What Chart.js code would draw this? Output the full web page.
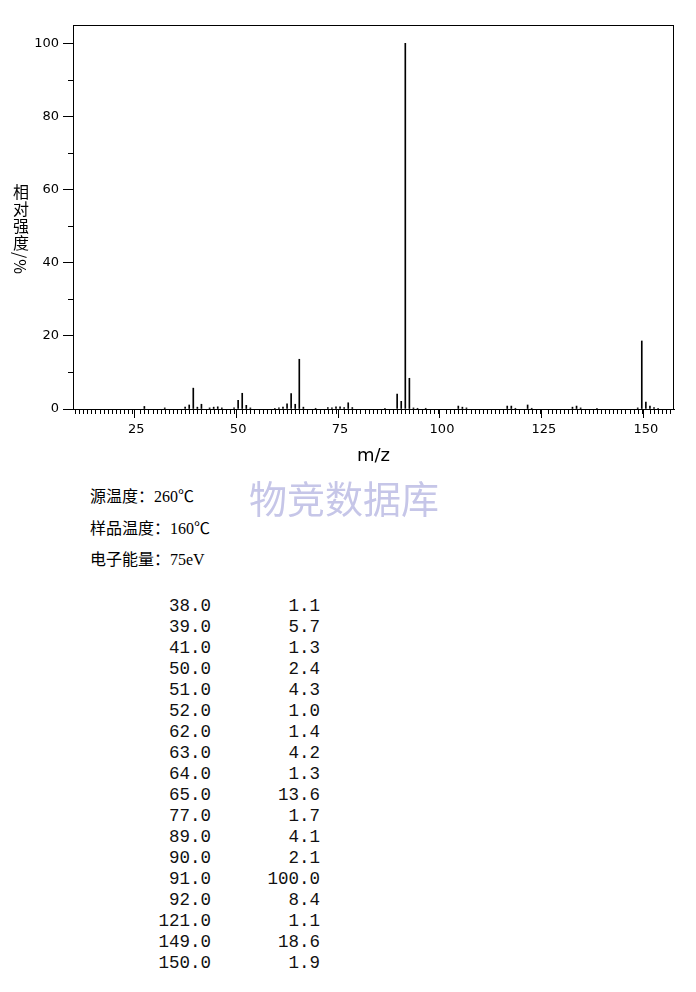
<!DOCTYPE html>
<html>
<head>
<meta charset="utf-8">
<script src="https://cdn.jsdelivr.net/npm/chart.js@4.4.0/dist/chart.umd.min.js"></script>
<style>
  body { margin: 0; background: #fff; width: 696px; height: 992px; position: relative; overflow: hidden; }
  #chart-box { position: absolute; left: 0; top: 0; width: 696px; height: 475px; }
  #ytitle { position: absolute; left: 11px; top: 184px; writing-mode: vertical-rl; text-orientation: mixed;
    font: 16px "Noto Sans CJK SC"; color: #000; line-height: 19px; letter-spacing: 1px; }
  .info { position: absolute; left: 90px; font: 16px "Liberation Serif", "Noto Sans CJK SC"; color: #000; line-height: 20px; }
  #mark { position: absolute; left: 249px; top: 472px; font: 38px "Noto Sans CJK SC"; color: #c6c6e8; line-height: 50px; }
  .cell { position: absolute; font: 17.5px "Liberation Mono"; color: #111; line-height: 21px; text-align: right; }
</style>
</head>
<body>
<div id="chart-box"><canvas id="main-chart"></canvas></div>
<div id="ytitle">相对强度/%</div>
<div class="info" style="top:487px">源温度：260℃</div>
<div class="info" style="top:519px">样品温度：160℃</div>
<div class="info" style="top:550px">电子能量：75eV</div>
<div id="mark">物竞数据库</div>
<div id="table"></div>
<script>
// m/z of each peak and its relative intensity (%)
const mz = [27, 32, 37, 38, 39, 40, 41, 43, 44, 45, 46, 49, 50, 51, 52, 53,
  59, 60, 61, 62, 63, 64, 65, 66, 69, 72, 73, 74, 75, 76, 77, 78, 86,
  89, 90, 91, 92, 93, 94, 96, 104, 105, 106, 116, 117, 118, 121, 122,
  132, 133, 134, 138, 148, 149, 150, 151, 152, 153];
const intensity = [0.7, 0.3, 0.5, 1.1, 5.7, 0.5, 1.3, 0.3, 0.5, 0.6, 0.3, 0.3, 2.4, 4.3, 1.0, 0.3,
  0.2, 0.3, 0.5, 1.4, 4.2, 1.3, 13.6, 0.5, 0.2, 0.4, 0.3, 0.6, 0.6, 0.4, 1.7, 0.4, 0.2,
  4.1, 2.1, 100.0, 8.4, 0.3, 0.2, 0.2, 0.8, 0.5, 0.3, 0.8, 0.8, 0.2, 1.1, 0.2,
  0.5, 0.8, 0.3, 0.2, 0.3, 18.6, 1.9, 0.8, 0.4, 0.2];
const xTickLabels = [25, 50, 75, 100, 125, 150];
const yTickLabels = [0, 20, 40, 60, 80, 100];

// peak table (only peaks >= 1 %)
const tableEl = document.getElementById("table");
let row = 0;
mz.forEach((m, i) => {
  if (intensity[i] < 1) return;
  const top = 596 + row * 21;
  tableEl.insertAdjacentHTML("beforeend",
    `<div class="cell" style="left:100px;width:111px;top:${top}px">${m.toFixed(1)}</div>` +
    `<div class="cell" style="left:220px;width:100px;top:${top}px">${intensity[i].toFixed(1)}</div>`);
  row++;
});

const isMajor = (list, ctx) => ctx.tick && list.includes(ctx.tick.value);

// short ticks for the unlabelled steps, plus the frame
const minorTicks = {
  id: "minorTicks",
  afterDraw(chart) {
    const { ctx, chartArea } = chart;
    const x = chart.scales.x, y = chart.scales.y;
    ctx.save();
    ctx.strokeStyle = "#000";
    ctx.lineWidth = 1;
    ctx.beginPath();
    x.ticks.forEach(t => {
      if (xTickLabels.includes(t.value)) return;
      const px = Math.round(x.getPixelForValue(t.value)) + 0.5;
      ctx.moveTo(px, chartArea.bottom);
      ctx.lineTo(px, chartArea.bottom + 5);
    });
    y.ticks.forEach(t => {
      if (yTickLabels.includes(t.value)) return;
      const py = Math.round(y.getPixelForValue(t.value)) + 0.5;
      ctx.moveTo(chartArea.left - 5, py);
      ctx.lineTo(chartArea.left, py);
    });
    ctx.stroke();
    ctx.strokeRect(chartArea.left + 0.5, chartArea.top + 0.5,
      chartArea.right - chartArea.left - 1, chartArea.bottom - chartArea.top);
    ctx.restore();
  }
};

const tickFont = { family: "DejaVu Sans", size: 13 };

new Chart(document.getElementById("main-chart"), {
  type: "bar",
  data: {
    datasets: [{
      data: mz.map((m, i) => ({ x: m, y: intensity[i] })),
      backgroundColor: "#000",
      barThickness: 1,
    }],
  },
  options: {
    responsive: true,
    maintainAspectRatio: false,
    animation: false,
    layout: { padding: { top: 25, right: 22, left: 0, bottom: 0 } },
    plugins: { legend: { display: false }, tooltip: { enabled: false } },
    scales: {
      x: {
        type: "linear",
        min: 10,
        max: 156.4,
        afterFit: s => { s.height = 66; },
        border: { color: "#000" },
        grid: {
          drawOnChartArea: false,
          tickLength: 9,
          tickColor: ctx => isMajor(xTickLabels, ctx) ? "#000" : "rgba(0,0,0,0)",
        },
        ticks: {
          stepSize: 1,
          autoSkip: false,
          includeBounds: false,
          maxRotation: 0,
          padding: 4,
          color: "#000",
          font: tickFont,
          callback: v => xTickLabels.includes(v) ? String(v) : "",
        },
        title: {
          display: true,
          text: "m/z",
          color: "#000",
          font: { family: "DejaVu Sans", size: 18 },
          padding: { top: 0, bottom: 8 },
        },
      },
      y: {
        min: 0,
        max: 105,
        afterFit: s => { s.width = 73; },
        border: { color: "#000" },
        grid: {
          drawOnChartArea: false,
          tickLength: 10,
          tickColor: ctx => isMajor(yTickLabels, ctx) ? "#000" : "rgba(0,0,0,0)",
        },
        ticks: {
          stepSize: 10,
          autoSkip: false,
          includeBounds: false,
          padding: 4,
          color: "#000",
          font: tickFont,
          callback: v => yTickLabels.includes(v) ? String(v) : "",
        },
      },
    },
  },
  plugins: [minorTicks],
});
</script>
</body>
</html>
